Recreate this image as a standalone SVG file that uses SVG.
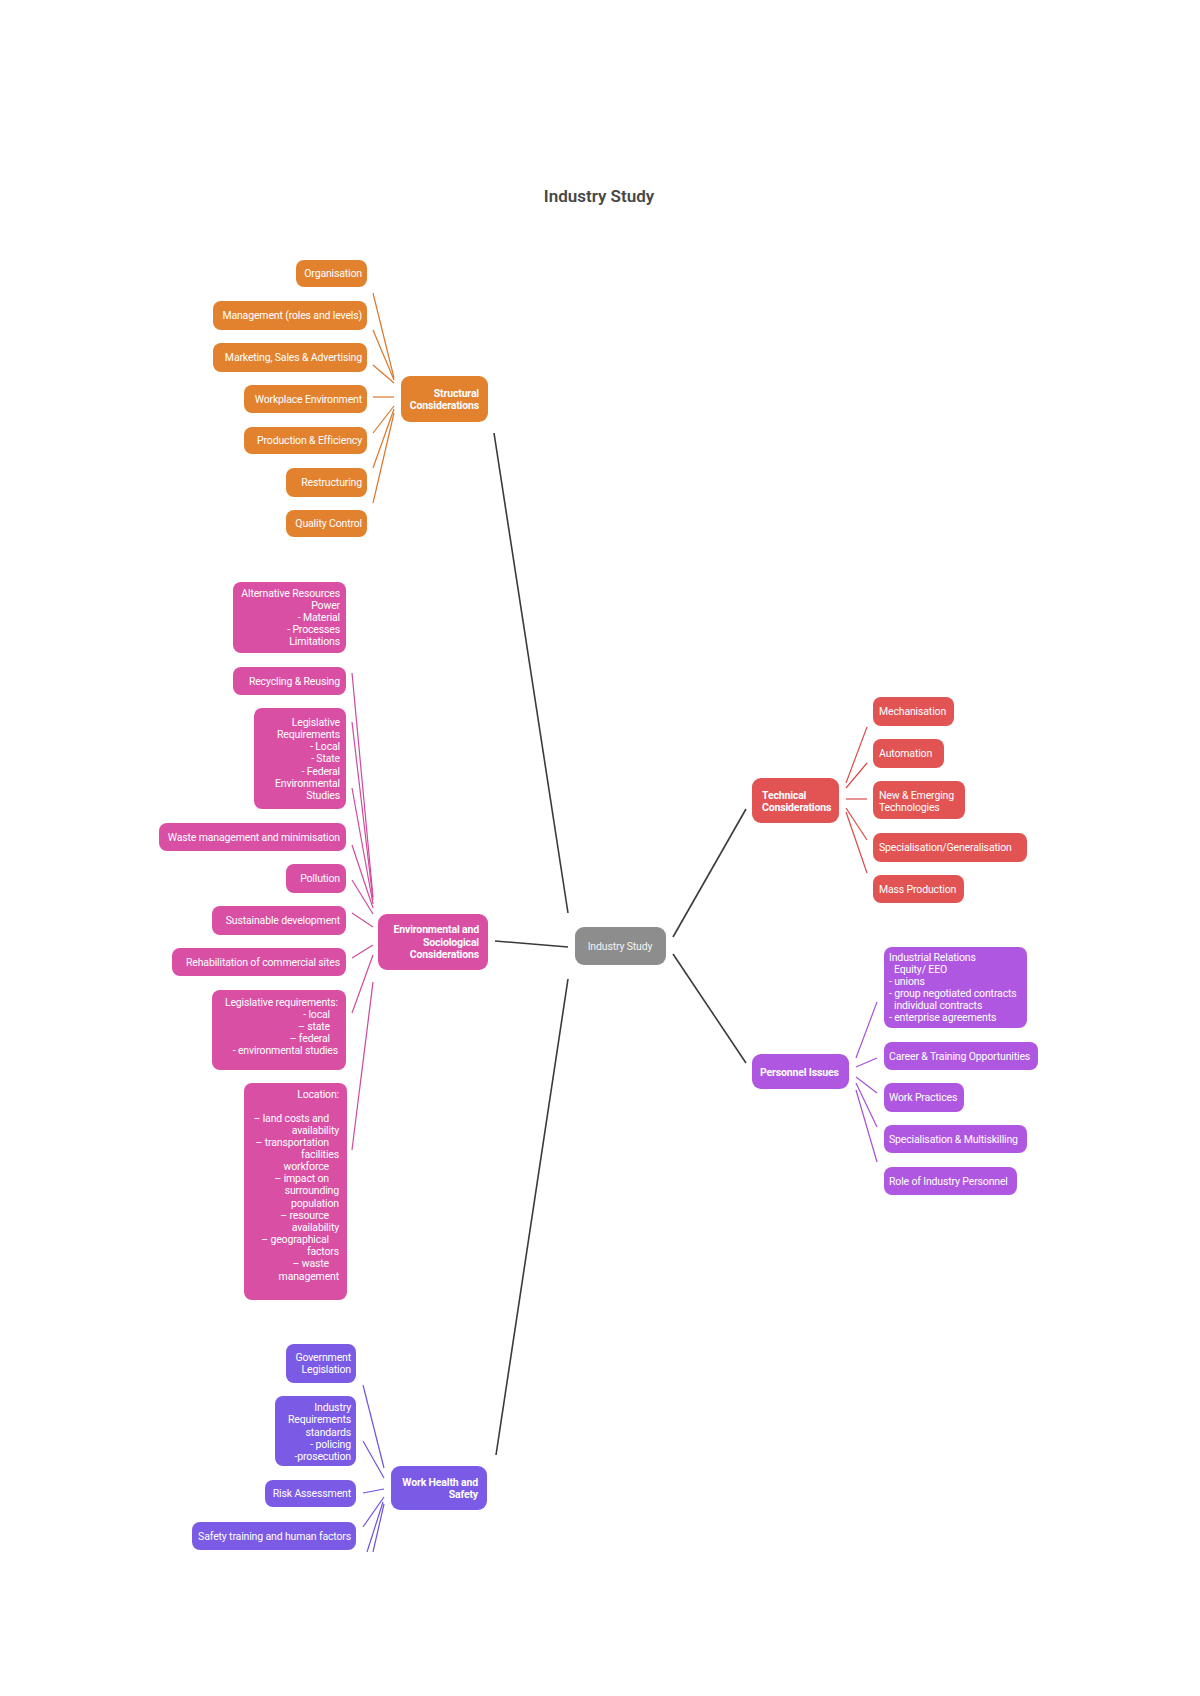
<svg xmlns="http://www.w3.org/2000/svg" width="1200" height="1696" viewBox="0 0 1200 1696">
<style>
  text { font-family: Roboto, "Liberation Sans", Arial, sans-serif; font-size: 10.5px; fill: #ffffff; letter-spacing: -0.15px; }
  .title { font-size: 17px; font-weight: 600; fill: #474747; letter-spacing: 0; }
  .b { font-weight: 700; }
  .r { text-anchor: end; }
  .c { text-anchor: middle; }
  .or { fill: #E2822F; }
  .pk { fill: #D94FA4; }
  .rd { fill: #E25353; }
  .pu { fill: #B057E2; }
  .vi { fill: #7B5BE6; }
  .gy { fill: #8D8D8D; }
  .main { stroke: #3a3a3a; stroke-width: 1.6; fill: none; }
  .lor { stroke: #D9772B; stroke-width: 1.2; fill: none; }
  .lpk { stroke: #D04A9C; stroke-width: 1.2; fill: none; }
  .lrd { stroke: #D84A4A; stroke-width: 1.2; fill: none; }
  .lpu { stroke: #A54FD8; stroke-width: 1.2; fill: none; }
  .lvi { stroke: #6F52DE; stroke-width: 1.2; fill: none; }
</style>
<rect width="1200" height="1696" fill="#ffffff"/>
<text class="title c" x="599" y="202">Industry Study</text>

<g id="connectors">
  <line class="main" x1="494" y1="433" x2="568" y2="913"/>
  <line class="main" x1="495" y1="941" x2="568" y2="947"/>
  <line class="main" x1="568" y1="979" x2="496" y2="1455"/>
  <line class="main" x1="673" y1="937" x2="746" y2="809"/>
  <line class="main" x1="673" y1="954" x2="746" y2="1063"/>

  <line class="lor" x1="373" y1="293" x2="394" y2="378"/>
  <line class="lor" x1="373" y1="330" x2="394" y2="380"/>
  <line class="lor" x1="373" y1="365" x2="394" y2="383"/>
  <line class="lor" x1="373" y1="397" x2="394" y2="397"/>
  <line class="lor" x1="373" y1="433" x2="394" y2="406"/>
  <line class="lor" x1="373" y1="468" x2="394" y2="409"/>
  <line class="lor" x1="373" y1="503" x2="394" y2="413"/>

  <line class="lpk" x1="352" y1="673" x2="373" y2="897"/>
  <line class="lpk" x1="352" y1="722" x2="373" y2="900"/>
  <line class="lpk" x1="352" y1="788" x2="373" y2="904"/>
  <line class="lpk" x1="352" y1="845" x2="373" y2="908"/>
  <line class="lpk" x1="352" y1="880" x2="373" y2="914"/>
  <line class="lpk" x1="352" y1="913" x2="373" y2="927"/>
  <line class="lpk" x1="352" y1="958" x2="373" y2="945"/>
  <line class="lpk" x1="352" y1="1013" x2="373" y2="955"/>
  <line class="lpk" x1="352" y1="1150" x2="373" y2="982"/>

  <line class="lrd" x1="846" y1="783" x2="867" y2="727"/>
  <line class="lrd" x1="846" y1="788" x2="867" y2="763"/>
  <line class="lrd" x1="846" y1="799" x2="867" y2="799"/>
  <line class="lrd" x1="846" y1="808" x2="867" y2="840"/>
  <line class="lrd" x1="846" y1="812" x2="867" y2="873"/>

  <line class="lpu" x1="856" y1="1058" x2="877" y2="1002"/>
  <line class="lpu" x1="856" y1="1067" x2="877" y2="1058"/>
  <line class="lpu" x1="856" y1="1077" x2="877" y2="1093"/>
  <line class="lpu" x1="856" y1="1083" x2="877" y2="1127"/>
  <line class="lpu" x1="856" y1="1090" x2="877" y2="1162"/>

  <line class="lvi" x1="363" y1="1385" x2="384" y2="1468"/>
  <line class="lvi" x1="363" y1="1441" x2="384" y2="1478"/>
  <line class="lvi" x1="363" y1="1493" x2="384" y2="1489"/>
  <line class="lvi" x1="363" y1="1527" x2="384" y2="1497"/>
  <line class="lvi" x1="367" y1="1552" x2="383" y2="1502"/>
  <line class="lvi" x1="373" y1="1552" x2="384" y2="1504"/>
</g>

<g id="central">
  <rect class="gy" x="575" y="927" width="91" height="38" rx="9"/>
  <text class="c" x="620" y="950" style="fill:#f2f2f2">Industry Study</text>
</g>

<!-- Structural -->
<g id="structural">
  <rect class="or" x="401" y="376" width="87" height="46" rx="9"/>
  <text class="b r" x="479" y="397">Structural</text>
  <text class="b r" x="479" y="409">Considerations</text>
</g>
<g id="organisation"><rect class="or" x="296" y="260" width="71" height="27" rx="8"/><text class="r" x="362" y="277">Organisation</text></g>
<g id="management"><rect class="or" x="213" y="301" width="154" height="29" rx="8"/><text class="r" x="362" y="319">Management (roles and levels)</text></g>
<g id="marketing"><rect class="or" x="213" y="343" width="154" height="29" rx="8"/><text class="r" x="362" y="361">Marketing, Sales &amp; Advertising</text></g>
<g id="workplace"><rect class="or" x="244" y="385" width="123" height="28" rx="8"/><text class="r" x="362" y="403">Workplace Environment</text></g>
<g id="production"><rect class="or" x="244" y="427" width="123" height="27" rx="8"/><text class="r" x="362" y="444">Production &amp; Efficiency</text></g>
<g id="restructuring"><rect class="or" x="286" y="468" width="81" height="29" rx="8"/><text class="r" x="362" y="486">Restructuring</text></g>
<g id="quality"><rect class="or" x="286" y="510" width="81" height="27" rx="8"/><text class="r" x="362" y="527">Quality Control</text></g>

<!-- Environmental -->
<g id="environmental">
  <rect class="pk" x="378" y="914" width="110" height="56" rx="9"/>
  <text class="b r" x="479" y="933">Environmental and</text>
  <text class="b r" x="479" y="946">Sociological</text>
  <text class="b r" x="479" y="958">Considerations</text>
</g>
<g id="alternative">
  <rect class="pk" x="233" y="582" width="113" height="71" rx="8"/>
  <text class="r" x="340" y="597">Alternative Resources</text>
  <text class="r" x="340" y="609">Power</text>
  <text class="r" x="340" y="621">- Material</text>
  <text class="r" x="340" y="633">- Processes</text>
  <text class="r" x="340" y="645">Limitations</text>
</g>
<g id="recycling"><rect class="pk" x="233" y="667" width="113" height="28" rx="8"/><text class="r" x="340" y="685">Recycling &amp; Reusing</text></g>
<g id="legislative-upper">
  <rect class="pk" x="254" y="708" width="92" height="101" rx="8"/>
  <text class="r" x="340" y="726">Legislative</text>
  <text class="r" x="340" y="738">Requirements</text>
  <text class="r" x="340" y="750">- Local</text>
  <text class="r" x="340" y="762">- State</text>
  <text class="r" x="340" y="775">- Federal</text>
  <text class="r" x="340" y="787">Environmental</text>
  <text class="r" x="340" y="799">Studies</text>
</g>
<g id="waste"><rect class="pk" x="159" y="823" width="187" height="28" rx="8"/><text class="r" x="340" y="841">Waste management and minimisation</text></g>
<g id="pollution"><rect class="pk" x="286" y="864" width="60" height="29" rx="8"/><text class="r" x="340" y="882">Pollution</text></g>
<g id="sustainable"><rect class="pk" x="212" y="906" width="134" height="29" rx="8"/><text class="r" x="340" y="924">Sustainable development</text></g>
<g id="rehabilitation"><rect class="pk" x="172" y="948" width="174" height="28" rx="8"/><text class="r" x="340" y="966">Rehabilitation of commercial sites</text></g>
<g id="legislative-lower">
  <rect class="pk" x="212" y="990" width="134" height="80" rx="8"/>
  <text class="r" x="338" y="1006">Legislative requirements:</text>
  <text class="r" x="330" y="1018">- local</text>
  <text class="r" x="330" y="1030">– state</text>
  <text class="r" x="330" y="1042">– federal</text>
  <text class="r" x="338" y="1054">- environmental studies</text>
</g>
<g id="location">
  <rect class="pk" x="244" y="1083" width="103" height="217" rx="8"/>
  <text class="r" x="339" y="1098">Location:</text>
  <text class="r" x="329" y="1122">– land costs and</text>
  <text class="r" x="339" y="1134">availability</text>
  <text class="r" x="329" y="1146">– transportation</text>
  <text class="r" x="339" y="1158">facilities</text>
  <text class="r" x="329" y="1170">workforce</text>
  <text class="r" x="329" y="1182">– impact on</text>
  <text class="r" x="339" y="1194">surrounding</text>
  <text class="r" x="339" y="1207">population</text>
  <text class="r" x="329" y="1219">– resource</text>
  <text class="r" x="339" y="1231">availability</text>
  <text class="r" x="329" y="1243">– geographical</text>
  <text class="r" x="339" y="1255">factors</text>
  <text class="r" x="329" y="1267">– waste</text>
  <text class="r" x="339" y="1280">management</text>
</g>

<!-- Technical -->
<g id="technical">
  <rect class="rd" x="752" y="778" width="87" height="45" rx="9"/>
  <text class="b" x="762" y="799">Technical</text>
  <text class="b" x="762" y="811">Considerations</text>
</g>
<g id="mechanisation"><rect class="rd" x="873" y="697" width="81" height="29" rx="8"/><text x="879" y="715">Mechanisation</text></g>
<g id="automation"><rect class="rd" x="873" y="739" width="71" height="29" rx="8"/><text x="879" y="757">Automation</text></g>
<g id="new-emerging"><rect class="rd" x="873" y="781" width="92" height="38" rx="8"/><text x="879" y="799">New &amp; Emerging</text><text x="879" y="811">Technologies</text></g>
<g id="spec-gen"><rect class="rd" x="873" y="833" width="154" height="29" rx="8"/><text x="879" y="851">Specialisation/Generalisation</text></g>
<g id="mass-production"><rect class="rd" x="873" y="875" width="91" height="28" rx="8"/><text x="879" y="893">Mass Production</text></g>

<!-- Personnel -->
<g id="personnel">
  <rect class="pu" x="752" y="1054" width="97" height="35" rx="9"/>
  <text class="b" x="760" y="1076">Personnel Issues</text>
</g>
<g id="industrial-relations">
  <rect class="pu" x="884" y="947" width="143" height="81" rx="8"/>
  <text x="889" y="961">Industrial Relations</text>
  <text x="894" y="973">Equity/ EEO</text>
  <text x="889" y="985">- unions</text>
  <text x="889" y="997">- group negotiated contracts</text>
  <text x="894" y="1009">individual contracts</text>
  <text x="889" y="1021">- enterprise agreements</text>
</g>
<g id="career"><rect class="pu" x="884" y="1042" width="154" height="28" rx="8"/><text x="889" y="1060">Career &amp; Training Opportunities</text></g>
<g id="work-practices"><rect class="pu" x="884" y="1083" width="80" height="29" rx="8"/><text x="889" y="1101">Work Practices</text></g>
<g id="spec-multi"><rect class="pu" x="884" y="1125" width="143" height="28" rx="8"/><text x="889" y="1143">Specialisation &amp; Multiskilling</text></g>
<g id="role"><rect class="pu" x="884" y="1167" width="133" height="28" rx="8"/><text x="889" y="1185">Role of Industry Personnel</text></g>

<!-- WHS -->
<g id="whs">
  <rect class="vi" x="391" y="1466" width="96" height="44" rx="9"/>
  <text class="b r" x="478" y="1486">Work Health and</text>
  <text class="b r" x="478" y="1498">Safety</text>
</g>
<g id="government"><rect class="vi" x="286" y="1344" width="70" height="39" rx="8"/><text class="r" x="351" y="1361">Government</text><text class="r" x="351" y="1373">Legislation</text></g>
<g id="industry-req">
  <rect class="vi" x="275" y="1396" width="81" height="70" rx="8"/>
  <text class="r" x="351" y="1411">Industry</text>
  <text class="r" x="351" y="1423">Requirements</text>
  <text class="r" x="351" y="1436">standards</text>
  <text class="r" x="351" y="1448">- policing</text>
  <text class="r" x="351" y="1460">-prosecution</text>
</g>
<g id="risk"><rect class="vi" x="265" y="1480" width="91" height="27" rx="8"/><text class="r" x="351" y="1497">Risk Assessment</text></g>
<g id="safety"><rect class="vi" x="192" y="1522" width="164" height="28" rx="8"/><text class="r" x="351" y="1540">Safety training and human factors</text></g>
</svg>
